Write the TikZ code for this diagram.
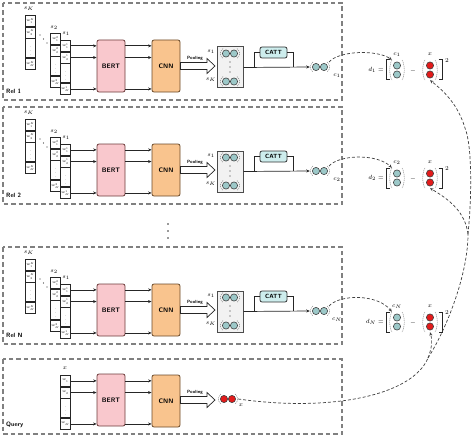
\RequirePackage{fix-cm}
\documentclass[tikz,border=0pt]{standalone}
\usetikzlibrary{calc,arrows.meta}
\definecolor{bertfill}{HTML}{F9C8CD}
\definecolor{bertdraw}{HTML}{6E3B3B}
\definecolor{cnnfill}{HTML}{F9C48E}
\definecolor{cnndraw}{HTML}{6B4A2A}
\definecolor{cattfill}{HTML}{CDEDED}
\definecolor{cyanc}{HTML}{9CC8C8}
\definecolor{redc}{HTML}{E31B1B}
\definecolor{panelc}{HTML}{808080}
\tikzset{
  panel/.style={draw=panelc, line width=1.4pt, dash pattern=on 4.5pt off 3pt},
  cell/.style={draw=black!85, fill=white, line width=0.7pt, minimum width=10pt, inner sep=0pt,
    font=\fontsize{3.9}{4.2}\selectfont},
  plabel/.style={font=\sffamily\bfseries\fontsize{6.2}{7}\selectfont, inner sep=0pt},
  slabel/.style={font=\fontsize{6}{7}\selectfont, inner sep=0pt},
  bertbox/.style={draw=bertdraw, fill=bertfill, line width=0.8pt, rounded corners=2pt,
    minimum width=28pt, minimum height=52pt, font=\sffamily\bfseries\fontsize{6.5}{7}\selectfont},
  cnnbox/.style={draw=cnndraw, fill=cnnfill, line width=0.8pt, rounded corners=2pt,
    minimum width=28pt, minimum height=52pt, font=\sffamily\bfseries\fontsize{6.5}{7}\selectfont},
  cattbox/.style={draw=black!80, fill=cattfill, line width=0.8pt, rounded corners=2pt,
    minimum width=27pt, minimum height=11pt, inner sep=0pt, font=\sffamily\bfseries\fontsize{6}{7}\selectfont},
  matbox/.style={draw=black!70, fill=black!5, line width=1pt, minimum width=26pt, minimum height=41pt},
  conn/.style={draw=black!85, line width=0.7pt},
  pooling/.style={draw=black!85, fill=white, line width=0.7pt},
  poolt/.style={font=\sffamily\bfseries\fontsize{4.6}{5}\selectfont, inner sep=0pt},
  pairnode/.style={minimum width=20pt, minimum height=10pt, inner sep=0pt},
  vpairnode/.style={minimum width=10pt, minimum height=20pt, inner sep=0pt},
  circ/.style={draw=black!75, line width=0.6pt},
  brk/.style={draw=black!55, line width=0.4pt, dash pattern=on 1.2pt off 0.8pt},
  dcurve/.style={draw=black!75, line width=0.7pt, dash pattern=on 3pt off 2pt},
  fbr/.style={draw=black!85, line width=1pt},
}
\newcommand\mystack[4]{%
  \node[cell, minimum height=11pt, anchor=north west] (#1a) at (#2,#3) {$w^{#4}_1$};
  \node[cell, minimum height=11pt, anchor=north] (#1b) at (#1a.south) {$w^{#4}_2$};
  \node[cell, minimum height=19pt, anchor=north] (#1c) at (#1b.south) {$\vdots$};
  \node[cell, minimum height=11pt, anchor=north] (#1d) at (#1c.south) {$w^{#4}_M$};
}
\newcommand\hpair[3]{%
  \node[pairnode] (#1) at #2 {};
  \draw[circ, fill=#3] ($(#1)+(-4,0)$) circle (3.6);
  \draw[circ, fill=#3] ($(#1)+(4,0)$) circle (3.6);
  \draw[brk] ($(#1)+(-7,-5)$) .. controls ($(#1)+(-10.5,-2)$) and ($(#1)+(-10.5,2)$) .. ($(#1)+(-7,5)$);
  \draw[brk] ($(#1)+(7,-5)$) .. controls ($(#1)+(10.5,-2)$) and ($(#1)+(10.5,2)$) .. ($(#1)+(7,5)$);
}
\newcommand\vpair[3]{%
  \node[vpairnode] (#1) at #2 {};
  \draw[circ, fill=#3] ($(#1)+(0,-4.5)$) circle (3.6);
  \draw[circ, fill=#3] ($(#1)+(0,4.5)$) circle (3.6);
  \draw[brk] ($(#1)+(-5,-10)$) .. controls ($(#1)+(-8,-6)$) and ($(#1)+(-8,6)$) .. ($(#1)+(-5,10)$);
  \draw[brk] ($(#1)+(5,-10)$) .. controls ($(#1)+(8,-6)$) and ($(#1)+(8,6)$) .. ($(#1)+(5,10)$);
}
\begin{document}
\begin{tikzpicture}[x=1pt,y=-1pt, >={Stealth[length=3.5pt,width=3pt]}]
\useasboundingbox (0,0) rectangle (474,436);

\foreach \p/\dy/\fy/\lab in {1/0/70/Rel 1, 2/104/178/Rel 2, N/244/322/Rel N}{
  \begin{scope}[shift={(0,\dy)}]
    \draw[panel] (3,3) rectangle (342,100);
    \node[plabel, anchor=west] (lab\p) at (6,91) {\lab};
    \mystack{sk\p}{25}{15}{K}
    \mystack{stwo\p}{50}{33}{2}
    \mystack{sone\p}{60}{40}{1}
    \node[slabel] (lsk\p) at (29,9) {$s_K$};
    \node[slabel] (lstwo\p) at (54,27.5) {$s_2$};
    \node[slabel] (lsone\p) at (66,34) {$s_1$};
    \fill[black!80] (40,35) circle (0.7) (43.5,39) circle (0.7) (47,43) circle (0.7);
    \node[bertbox] (bert\p) at (111,66) {BERT};
    \node[cnnbox] (cnn\p) at (166,66) {CNN};
    \foreach \c in {a,b,d}{
      \draw[conn,->] (sone\p\c.east) -- (sone\p\c.east -| bert\p.west);
      \draw[conn,->] (sone\p\c.east -| bert\p.east) -- (sone\p\c.east -| cnn\p.west);
    }
    \coordinate (pt\p) at (215,66);
    \draw[pooling] (cnn\p.east |- 0,62.5) -- (207,62.5) -- (207,58.5) -- (pt\p) -- (207,73.5) -- (207,69.5) -- (cnn\p.east |- 0,69.5) -- cycle;
    \node[poolt] (pool\p) at (195,58) {Pooling};
    \node[matbox] (mat\p) at (230,67.5) {};
    \hpair{msone\p}{(230,53.5)}{cyanc}
    \hpair{msk\p}{(230,81.5)}{cyanc}
    \fill[black!80] (230,62) circle (0.6) (230,67) circle (0.6) (230,72) circle (0.6);
    \node[slabel] (lmsone\p) at (211,52) {$s_1$};
    \node[slabel] (lmsk\p) at (211,80) {$s_K$};
    \node[cattbox] (catt\p) at (273.5,52.5) {CATT};
    \hpair{c\p}{(320,67)}{cyanc}
    \draw[conn,->] (mat\p.east) -- (c\p.west);
    \coordinate (bl\p) at (254,67);
    \coordinate (br\p) at (293,67);
    \draw[conn] (bl\p) |- (catt\p.west);
    \draw[conn] (catt\p.east) -| (br\p);
    \node[slabel] (lc\p) at (337,76) {$c_\p$};
  \end{scope}
  % distance formula
  \node[slabel, anchor=east] (d\p) at (384,\fy) {$d_\p =$};
  \draw[fbr] (390,\fy-10) -- (386.5,\fy-10) -- (386.5,\fy+10) -- (390,\fy+10);
  \vpair{fc\p}{(397,\fy)}{cyanc}
  \node[slabel] (lfc\p) at (397,\fy-15) {$c_\p$};
  \node[slabel] (minus\p) at (413,\fy+1) {$-$};
  \vpair{fx\p}{(430,\fy)}{redc}
  \node[slabel] (lfx\p) at (430,\fy-16) {$x$};
  \draw[fbr] (438.5,\fy-10) -- (442,\fy-10) -- (442,\fy+10) -- (438.5,\fy+10);
  \node[slabel] (sq\p) at (447,\fy-9) {$2$};
  \draw[dcurve,->] ($(c\p)+(9,-5)$) .. controls (340,\dy+50) and (378,\dy+50) .. (fc\p.north west);
}

% vertical dots between panels
\fill[black!80] (168,224) circle (0.9) (168,231) circle (0.9) (168,238) circle (0.9);

% Query panel
\draw[panel] (3,359) rectangle (342,434);
\node[plabel, anchor=west] (labq) at (6,425) {Query};
\mystack{q}{60}{375}{}
\node[slabel] (lq) at (65,368) {$x$};
\node[bertbox] (bertq) at (111,400) {BERT};
\node[cnnbox] (cnnq) at (166,401) {CNN};
\foreach \c in {a,b,d}{
  \draw[conn,->] (q\c.east) -- (q\c.east -| bertq.west);
  \draw[conn,->] (q\c.east -| bertq.east) -- (q\c.east -| cnnq.west);
}
\coordinate (ptq) at (215,400);
\draw[pooling] (cnnq.east |- 0,396.5) -- (207,396.5) -- (207,392.5) -- (ptq) -- (207,407.5) -- (207,403.5) -- (cnnq.east |- 0,403.5) -- cycle;
\node[poolt] (poolq) at (195,392) {Pooling};
\hpair{xq}{(228,399)}{redc}
\node[slabel] (lxq) at (241,405) {$x$};

% query to distances
\coordinate (split) at (428,358);
\coordinate (split2) at (468,234);
\draw[dcurve] (xq.east) .. controls (330,412) and (412,396) .. (split);
\draw[dcurve,->] (split) .. controls (431,350) and (433,342) .. (fxN.south);
\draw[dcurve] (split) .. controls (446,330) and (468,275) .. (split2);
\draw[dcurve,->] (split2) .. controls (465,212) and (450,200) .. (fx2.south);
\draw[dcurve,->] (split2) .. controls (472,195) and (472,145) .. (465,128) .. controls (458,105) and (445,92) .. (fx1.south);
\end{tikzpicture}
\end{document}
